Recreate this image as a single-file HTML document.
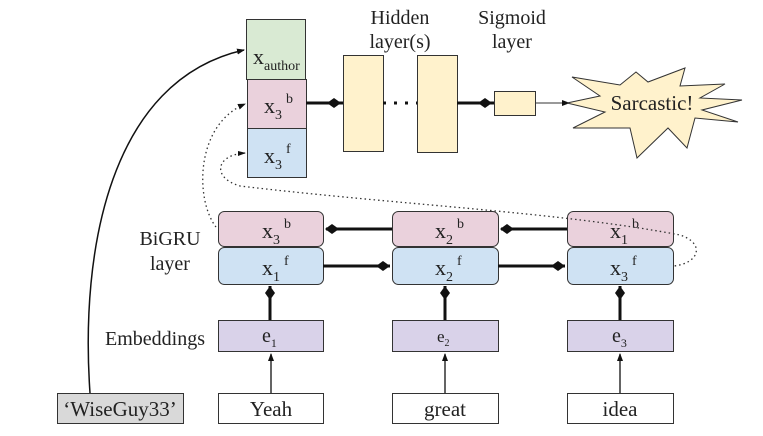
<!DOCTYPE html>
<html><head><style>body{margin:0;background:#fff}svg{display:block}text{font-family:"Liberation Serif",serif;fill:#222}</style></head><body>
<svg width="763" height="436" viewBox="0 0 763 436" xmlns="http://www.w3.org/2000/svg">
<defs>
<marker id="a" markerWidth="8" markerHeight="8" refX="7" refY="4" orient="auto" markerUnits="userSpaceOnUse"><path d="M0,1 L8,4 L0,7 z" fill="#111"/></marker>
</defs>
<!-- top stack -->
<rect x="246.5" y="19.5" width="59" height="60" fill="#d9ead3" stroke="#333"/>
<rect x="247.5" y="79.5" width="59" height="49" fill="#ead1dc" stroke="#333"/>
<rect x="247.5" y="128.5" width="59" height="49" fill="#cfe2f3" stroke="#333"/>
<text x="253" y="64" font-size="22">x<tspan font-size="14" dy="6">author</tspan></text>
<text x="264" y="113" font-size="22">x<tspan font-size="14" dy="6">3</tspan><tspan font-size="14" dy="-16" dx="4">b</tspan></text>
<text x="264" y="163" font-size="22">x<tspan font-size="14" dy="6">3</tspan><tspan font-size="14" dy="-16" dx="4">f</tspan></text>
<!-- hidden -->
<text x="400" y="24" font-size="20" text-anchor="middle">Hidden</text>
<text x="400" y="48" font-size="20" text-anchor="middle">layer(s)</text>
<text x="512" y="24" font-size="20" text-anchor="middle">Sigmoid</text>
<text x="512" y="48" font-size="20" text-anchor="middle">layer</text>
<rect x="343.5" y="55.5" width="40" height="96" fill="#fff2cc" stroke="#333"/>
<rect x="417.5" y="55.5" width="40" height="97" fill="#fff2cc" stroke="#333"/>
<rect x="494.5" y="91.5" width="41" height="24" fill="#fff2cc" stroke="#333"/>
<line x1="306" y1="103" x2="343" y2="103" stroke="#111" stroke-width="3"/>
<path d="M327,103 L334,98 L341,103 L334,108 z" fill="#111"/>
<line x1="383" y1="103" x2="417" y2="103" stroke="#111" stroke-width="3" stroke-dasharray="3,8"/>
<line x1="457" y1="103" x2="494" y2="103" stroke="#111" stroke-width="3"/>
<path d="M478,103 L485,98 L492,103 L485,108 z" fill="#111"/>
<line x1="535" y1="103" x2="569" y2="103" stroke="#333" stroke-width="1" marker-end="url(#a)"/>
<polygon points="567,103 600,96 572,77 620,85 636,72 648,82 685,68 680,86 725,84 700,98 742,100 702,110 738,122 695,118 687,148 668,128 637,158 630,128 573,128 605,112" fill="#fff2cc" stroke="#333"/>
<text x="652" y="110" font-size="21" text-anchor="middle">Sarcastic!</text>
<!-- BiGRU -->
<text x="170" y="245" font-size="20" text-anchor="middle">BiGRU</text>
<text x="170" y="270" font-size="20" text-anchor="middle">layer</text>
<g stroke="#333">
<rect x="218.5" y="211.5" width="105" height="35" rx="6" fill="#ead1dc"/>
<rect x="218.5" y="247.5" width="105" height="37" rx="6" fill="#cfe2f3"/>
<rect x="392.5" y="211.5" width="106" height="35" rx="6" fill="#ead1dc"/>
<rect x="392.5" y="247.5" width="106" height="37" rx="6" fill="#cfe2f3"/>
<rect x="567.5" y="211.5" width="106" height="35" rx="6" fill="#ead1dc"/>
<rect x="567.5" y="247.5" width="106" height="37" rx="6" fill="#cfe2f3"/>
</g>
<g font-size="22">
<text x="262" y="238">x<tspan font-size="14" dy="6">3</tspan><tspan font-size="14" dy="-16" dx="4">b</tspan></text>
<text x="262" y="275">x<tspan font-size="14" dy="6">1</tspan><tspan font-size="14" dy="-16" dx="4">f</tspan></text>
<text x="435" y="238">x<tspan font-size="14" dy="6">2</tspan><tspan font-size="14" dy="-16" dx="4">b</tspan></text>
<text x="435" y="275">x<tspan font-size="14" dy="6">2</tspan><tspan font-size="14" dy="-16" dx="4">f</tspan></text>
<text x="610" y="238">x<tspan font-size="14" dy="6">1</tspan><tspan font-size="14" dy="-16" dx="4">b</tspan></text>
<text x="610" y="275">x<tspan font-size="14" dy="6">3</tspan><tspan font-size="14" dy="-16" dx="4">f</tspan></text>
</g>
<g stroke="#111" stroke-width="3">
<line x1="326" y1="229" x2="392" y2="229"/><line x1="501" y1="229" x2="567" y2="229"/>
<line x1="323" y1="266" x2="390" y2="266"/><line x1="498" y1="266" x2="565" y2="266"/>
<line x1="270" y1="286" x2="270" y2="320"/><line x1="445" y1="286" x2="445" y2="320"/><line x1="620" y1="286" x2="620" y2="320"/>
</g>
<g fill="#111">
<path d="M325,229 L332,224 L339,229 L332,234 z"/><path d="M500,229 L507,224 L514,229 L507,234 z"/>
<path d="M376,266 L383,261 L390,266 L383,271 z"/><path d="M551,266 L558,261 L565,266 L558,271 z"/>
<path d="M270,286 L275,293 L270,300 L265,293 z"/><path d="M445,286 L450,293 L445,300 L440,293 z"/><path d="M620,286 L625,293 L620,300 L615,293 z"/>
</g>
<!-- dotted -->
<g fill="none" stroke="#333" stroke-width="1.3" stroke-dasharray="1.5,3">
<path d="M216,227 C195,200 195,125 245,104" marker-end="url(#a)"/>
<path d="M245,153 C215,155 212,178 240,186 C400,205 560,212 680,235 C705,243 700,263 674,266"/>
</g>
<path d="M238,151 L246,153 L238,156 z" fill="#111"/>
<!-- embeddings -->
<text x="155" y="345" font-size="20" text-anchor="middle">Embeddings</text>
<g stroke="#333" fill="#d9d2e9">
<rect x="218.5" y="320.5" width="105" height="31"/>
<rect x="392.5" y="320.5" width="106" height="31"/>
<rect x="567.5" y="320.5" width="106" height="31"/>
</g>
<text x="262" y="342" font-size="20">e<tspan font-size="12" dy="5">1</tspan></text>
<text x="437" y="342" font-size="17">e<tspan font-size="10" dy="4">2</tspan></text>
<text x="612" y="342" font-size="20">e<tspan font-size="12" dy="5">3</tspan></text>
<g stroke="#111" stroke-width="1.3">
<line x1="271" y1="393" x2="271" y2="354" marker-end="url(#a)"/>
<line x1="445" y1="393" x2="445" y2="354" marker-end="url(#a)"/>
<line x1="620" y1="393" x2="620" y2="354" marker-end="url(#a)"/>
</g>
<!-- words -->
<g stroke="#333">
<rect x="57.5" y="393.5" width="126" height="30" fill="#d9d9d9"/>
<rect x="218.5" y="393.5" width="105" height="30" fill="#fff"/>
<rect x="392.5" y="393.5" width="106" height="30" fill="#fff"/>
<rect x="567.5" y="393.5" width="106" height="30" fill="#fff"/>
</g>
<g font-size="21" text-anchor="middle">
<text x="120" y="416">‘WiseGuy33’</text>
<text x="271" y="416">Yeah</text>
<text x="445" y="416">great</text>
<text x="620" y="416">idea</text>
</g>
<path d="M90,393 C80,250 110,80 244,50" fill="none" stroke="#111" stroke-width="1.5" marker-end="url(#a)"/>
</svg>
</body></html>
